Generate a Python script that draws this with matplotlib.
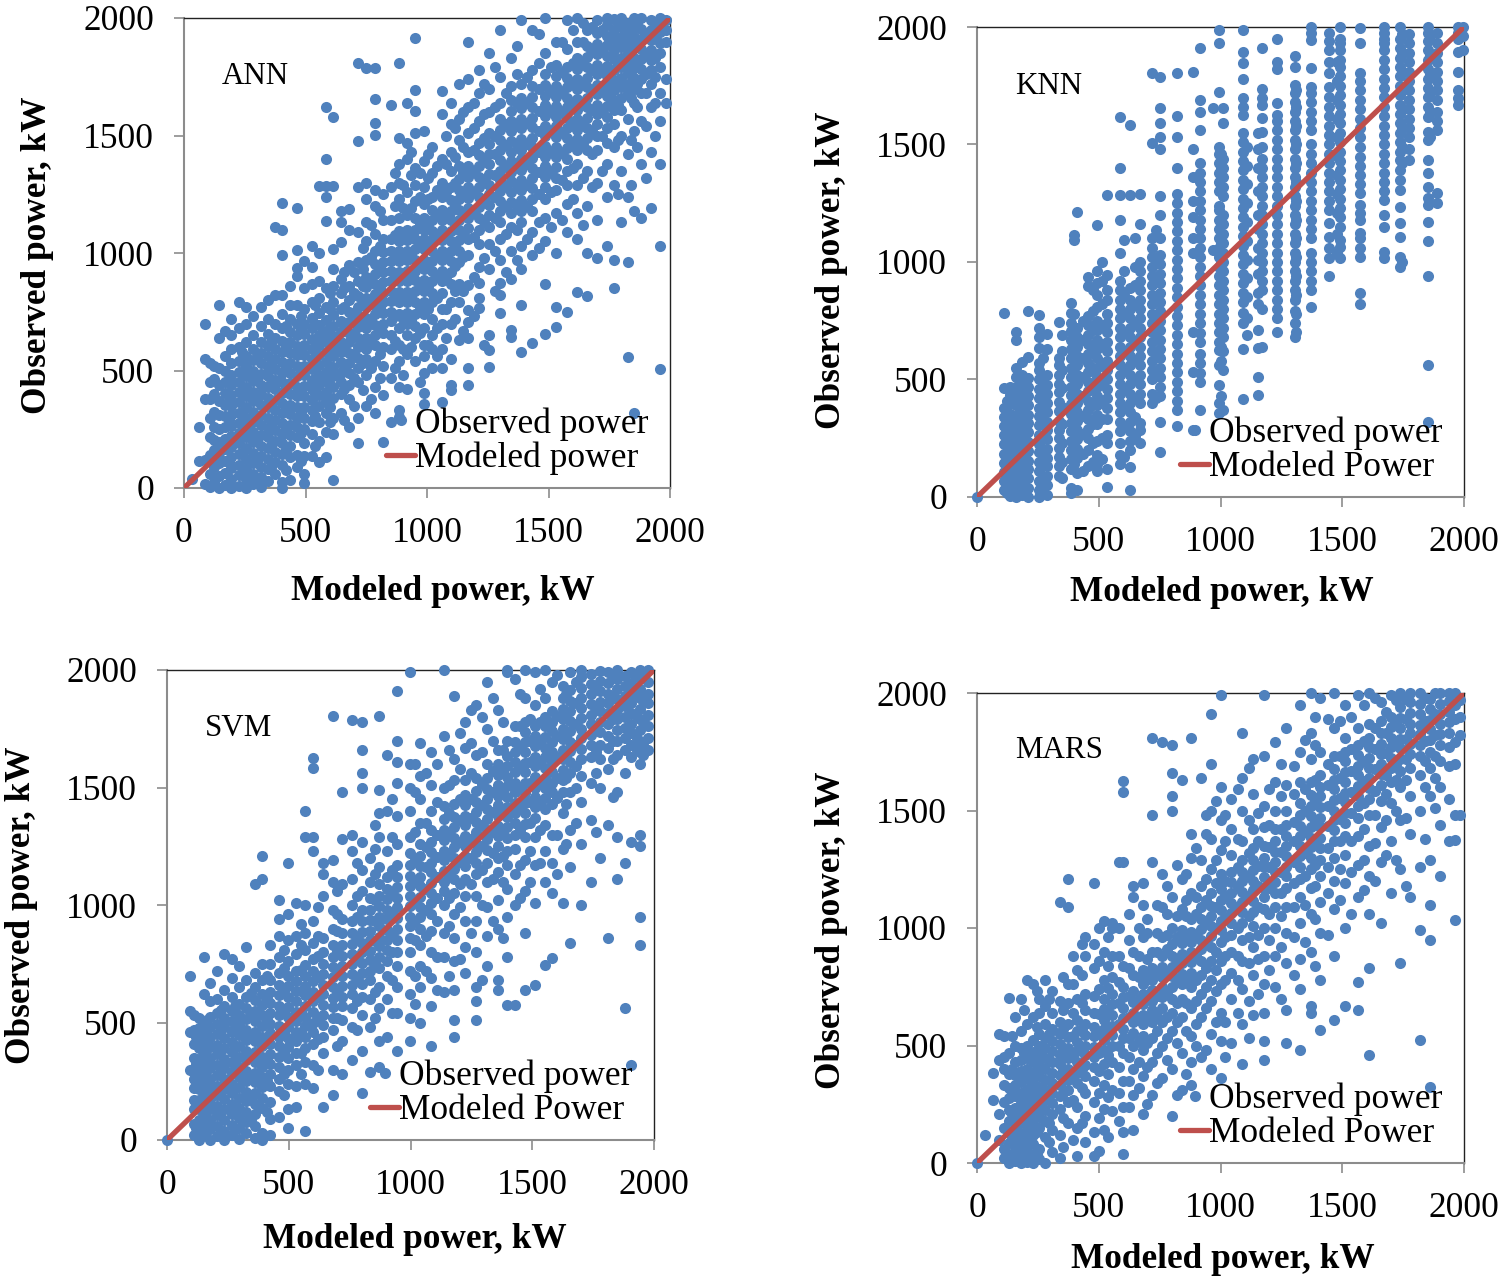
import matplotlib
matplotlib.use('Agg')
import matplotlib.pyplot as plt
from matplotlib.lines import Line2D

plt.rcParams['font.family'] = ['Liberation Serif', 'DejaVu Serif']

W, H = 1498, 1278

# 每列: 模型功率 -> 观测功率
ann_cols = {
    33: [40], 60: [115, 260], 85: [15, 120, 380, 550, 700],
    105: [5, 60, 140, 215, 300, 380, 450, 530],
    125: [25, 90, 160, 205, 260, 325, 400, 465, 520],
    145: [0, 50, 105, 150, 195, 250, 310, 370, 440, 510, 640, 780],
    170: [12, 65, 115, 165, 210, 260, 305, 355, 405, 450, 500, 560, 670],
    195: [0, 40, 85, 130, 175, 220, 265, 310, 350, 395, 440, 480, 530, 590, 650, 720],
    225: [10, 55, 100, 145, 190, 235, 275, 320, 365, 410, 450, 495, 540, 600, 680, 790],
    255: [0, 40, 80, 125, 170, 215, 260, 300, 345, 390, 430, 475, 520, 560, 620, 700, 770],
    285: [15, 60, 105, 150, 195, 240, 280, 325, 370, 410, 455, 500, 545, 590, 650, 730],
    315: [5, 45, 90, 135, 180, 225, 270, 310, 355, 400, 440, 485, 530, 575, 620, 690, 770],
    345: [30, 80, 125, 170, 215, 255, 300, 345, 385, 430, 475, 515, 560, 605, 655, 720, 800],
    375: [60, 110, 155, 200, 245, 290, 330, 375, 420, 460, 505, 550, 590, 640, 700, 820, 1110],
    405: [0, 25, 100, 145, 190, 230, 275, 320, 360, 405, 450, 490, 535, 580, 625, 680, 740, 821, 990, 1098, 1212],
    435: [35, 130, 180, 225, 270, 315, 355, 400, 445, 490, 530, 575, 620, 665, 720, 780, 860],
    465: [90, 140, 215, 260, 300, 345, 390, 430, 475, 520, 565, 605, 650, 700, 780, 902, 936, 1013, 1190],
    495: [20, 60, 135, 190, 250, 300, 345, 390, 435, 480, 520, 565, 610, 655, 700, 760, 850, 966],
    525: [135, 230, 285, 330, 375, 420, 460, 505, 550, 590, 635, 680, 725, 790, 870, 940, 1030],
    555: [110, 200, 280, 350, 395, 440, 480, 525, 565, 610, 650, 695, 745, 810, 880, 1000, 1286],
    585: [130, 240, 320, 370, 410, 455, 495, 535, 580, 625, 670, 715, 770, 850, 1136, 1238, 1286, 1402, 1623],
    615: [35, 230, 300, 385, 430, 475, 515, 560, 600, 645, 690, 735, 790, 860, 930, 1017, 1286, 1580],
    645: [320, 400, 450, 490, 535, 580, 620, 665, 710, 760, 830, 890, 1047, 1130, 1177],
    680: [260, 380, 440, 490, 530, 575, 620, 660, 705, 750, 800, 860, 950, 1100, 1187],
    715: [190, 300, 450, 510, 555, 600, 640, 685, 730, 770, 815, 880, 960, 1090, 1280, 1477, 1808],
    750: [350, 480, 550, 590, 640, 680, 725, 770, 810, 855, 900, 970, 1050, 1130, 1230, 1300, 1787],
    785: [320, 430, 540, 610, 650, 695, 740, 780, 825, 870, 910, 955, 1010, 1080, 1200, 1270, 1503, 1555, 1656, 1787],
    820: [195, 395, 520, 600, 660, 700, 745, 790, 830, 875, 920, 960, 1005, 1060, 1140, 1250],
    850: [280, 470, 590, 650, 710, 750, 795, 840, 880, 925, 965, 1010, 1060, 1140, 1280, 1630],
    883: [302, 330, 430, 540, 610, 680, 740, 790, 835, 880, 920, 965, 1010, 1050, 1095, 1150, 1230, 1300, 1380, 1490, 1808],
    917: [420, 570, 650, 700, 745, 790, 835, 880, 925, 970, 1010, 1055, 1100, 1160, 1260, 1400, 1470, 1637],
    949: [540, 640, 690, 740, 790, 840, 885, 925, 970, 1015, 1060, 1100, 1150, 1220, 1290, 1360, 1510, 1605, 1694, 1914],
    986: [357, 404, 490, 560, 610, 680, 740, 790, 840, 885, 930, 970, 1015, 1060, 1100, 1150, 1210, 1280, 1390, 1520],
    1020: [510, 590, 650, 720, 790, 830, 880, 925, 965, 1010, 1055, 1095, 1140, 1185, 1240, 1340, 1450],
    1060: [366, 510, 590, 700, 760, 830, 880, 925, 970, 1010, 1055, 1100, 1140, 1185, 1240, 1300, 1400, 1590, 1690],
    1097: [417, 440, 550, 700, 790, 870, 920, 965, 1010, 1050, 1095, 1140, 1180, 1225, 1280, 1350, 1430, 1550, 1640],
    1133: [630, 791, 870, 960, 1010, 1055, 1100, 1140, 1185, 1230, 1270, 1315, 1370, 1480, 1570, 1720],
    1170: [438, 511, 638, 706, 757, 864, 990, 1060, 1105, 1150, 1190, 1235, 1280, 1325, 1370, 1430, 1510, 1620, 1740, 1900],
    1216: [766, 808, 872, 940, 1040, 1100, 1150, 1195, 1240, 1280, 1325, 1370, 1415, 1470, 1560, 1680, 1780],
    1257: [515, 587, 651, 930, 1040, 1110, 1160, 1205, 1250, 1290, 1335, 1380, 1420, 1465, 1510, 1600, 1700, 1850],
    1302: [745, 821, 872, 970, 1060, 1130, 1180, 1220, 1265, 1310, 1350, 1395, 1440, 1480, 1525, 1570, 1640, 1750, 1950],
    1347: [643, 672, 890, 1010, 1110, 1170, 1215, 1260, 1305, 1345, 1390, 1430, 1475, 1520, 1560, 1605, 1650, 1710, 1830],
    1388: [579, 780, 930, 1030, 1130, 1180, 1225, 1270, 1310, 1355, 1400, 1440, 1485, 1530, 1570, 1615, 1660, 1720, 1990],
    1433: [617, 990, 1090, 1180, 1230, 1275, 1320, 1360, 1405, 1450, 1490, 1535, 1575, 1620, 1665, 1710, 1780, 1950],
    1487: [655, 870, 1050, 1150, 1230, 1280, 1325, 1370, 1410, 1455, 1500, 1540, 1585, 1630, 1670, 1715, 1760, 1850, 2000],
    1532: [685, 770, 1000, 1170, 1270, 1320, 1365, 1410, 1450, 1495, 1540, 1580, 1625, 1665, 1710, 1755, 1800, 1900],
    1577: [749, 1090, 1210, 1290, 1350, 1400, 1445, 1490, 1530, 1575, 1620, 1660, 1705, 1745, 1790, 1870, 1990],
    1618: [834, 1060, 1170, 1290, 1380, 1440, 1485, 1525, 1570, 1610, 1655, 1700, 1740, 1785, 1830, 1900, 2000],
    1659: [817, 1000, 1200, 1350, 1440, 1490, 1530, 1575, 1620, 1660, 1705, 1745, 1790, 1835, 1880, 1950],
    1700: [980, 1140, 1300, 1440, 1500, 1550, 1590, 1630, 1675, 1715, 1760, 1800, 1845, 1890, 1935, 1990],
    1740: [1030, 1240, 1380, 1470, 1530, 1580, 1625, 1670, 1710, 1755, 1795, 1840, 1885, 1925, 1970, 2000],
    1770: [851, 970, 1290, 1450, 1550, 1610, 1650, 1695, 1735, 1780, 1825, 1865, 1910, 1950, 1995],
    1800: [1130, 1350, 1500, 1610, 1660, 1705, 1745, 1790, 1830, 1875, 1920, 1960, 2000],
    1828: [557, 960, 1240, 1420, 1570, 1680, 1720, 1765, 1810, 1850, 1895, 1935, 1980],
    1852: [319, 1180, 1520, 1640, 1700, 1745, 1790, 1830, 1875, 1920, 1960, 2000],
    1880: [1150, 1380, 1560, 1680, 1740, 1785, 1825, 1870, 1910, 1955, 2000],
    1920: [1190, 1430, 1620, 1720, 1780, 1820, 1865, 1905, 1950, 1990],
    1959: [506, 1030, 1380, 1560, 1680, 1790, 1850, 1895, 1940, 1980, 2000],
    1985: [1640, 1740, 1900, 1950, 1990],
}

# 条带内部较密的部分
ann_dense = {
    185: [20, 110, 200, 290, 375, 460], 240: [60, 150, 240, 325, 410, 495, 580],
    300: [35, 120, 205, 295, 380, 465, 555], 360: [90, 180, 270, 355, 445, 530, 620],
    420: [75, 160, 250, 335, 425, 510, 600, 690], 480: [115, 235, 325, 410, 500, 590, 675, 730],
    540: [180, 305, 400, 465, 540, 620, 700, 780], 600: [280, 345, 440, 515, 600, 680, 760, 830],
    660: [290, 420, 510, 600, 690, 770, 850, 920], 700: [350, 470, 570, 660, 745, 830, 920],
    735: [415, 530, 620, 705, 795, 860, 930, 1020], 770: [380, 510, 630, 715, 800, 890, 985, 1120],
    805: [470, 570, 680, 770, 850, 935, 1030, 1180], 870: [510, 625, 730, 815, 900, 985, 1075, 1200, 1340],
    900: [480, 590, 720, 810, 900, 990, 1075, 1190, 1290], 935: [600, 715, 815, 905, 995, 1080, 1190, 1330, 1430],
    970: [450, 660, 770, 865, 950, 1040, 1125, 1240, 1340], 1005: [610, 760, 860, 950, 1035, 1125, 1230, 1320, 1420],
    1040: [560, 680, 810, 905, 990, 1075, 1165, 1270, 1370], 1080: [640, 760, 900, 990, 1075, 1160, 1260, 1380, 1500],
    1115: [720, 840, 945, 1030, 1120, 1205, 1300, 1410, 1530], 1150: [670, 840, 985, 1080, 1165, 1250, 1340, 1450, 1600],
    1195: [730, 900, 1070, 1170, 1260, 1345, 1440, 1530, 1640], 1235: [610, 980, 1130, 1225, 1310, 1400, 1490, 1590, 1720],
    1280: [840, 1010, 1150, 1240, 1330, 1420, 1500, 1620, 1790], 1325: [920, 1080, 1200, 1285, 1370, 1460, 1550, 1680],
    1370: [970, 1100, 1200, 1290, 1375, 1465, 1550, 1640, 1760, 1880], 1410: [1060, 1200, 1290, 1380, 1465, 1555, 1640, 1750],
    1460: [1020, 1130, 1250, 1345, 1430, 1520, 1605, 1700, 1810, 1930], 1510: [1110, 1260, 1345, 1430, 1520, 1605, 1690, 1790],
    1555: [1140, 1310, 1425, 1515, 1600, 1685, 1770, 1900], 1600: [1230, 1360, 1460, 1550, 1635, 1720, 1810, 1950],
    1640: [1120, 1320, 1460, 1555, 1640, 1725, 1810, 1900, 1980], 1680: [1280, 1420, 1520, 1610, 1695, 1780, 1865, 1960],
    1720: [1350, 1500, 1600, 1690, 1775, 1860, 1950], 1785: [1250, 1480, 1630, 1720, 1805, 1890, 1980],
    1840: [1290, 1480, 1660, 1770, 1855, 1940], 1865: [1450, 1620, 1720, 1810, 1895, 1985],
    1900: [1320, 1540, 1680, 1760, 1845, 1930], 1940: [1500, 1640, 1750, 1830, 1920, 1970],
}

knn_cols = {
    0: [0],
    112: [30, 70, 105, 145, 185, 225, 265, 300, 340, 380, 464, 783],
    135: [5, 45, 85, 125, 160, 200, 240, 280, 320, 355, 395, 435, 470],
    160: [0, 40, 80, 115, 155, 195, 235, 275, 310, 350, 390, 430, 470, 510, 550, 668, 702],
    185: [10, 50, 90, 125, 165, 205, 245, 285, 320, 360, 400, 440, 480, 520, 574],
    209: [0, 40, 80, 120, 155, 195, 235, 275, 315, 350, 390, 430, 470, 506, 596, 791],
    255: [0, 30, 70, 110, 150, 190, 225, 265, 305, 345, 380, 420, 460, 500, 540, 570, 634, 681, 719, 774],
    288: [10, 50, 90, 130, 165, 205, 245, 285, 320, 360, 400, 440, 475, 520, 630, 694],
    337: [90, 130, 170, 210, 250, 285, 325, 365, 405, 445, 480, 520, 560, 590, 745],
    385: [15, 40, 120, 160, 200, 240, 280, 315, 355, 395, 435, 470, 510, 550, 590, 630, 670, 705, 740, 825, 783],
    412: [30, 100, 165, 205, 245, 285, 325, 360, 400, 440, 480, 520, 560, 600, 640, 680, 720, 1213],
    456: [130, 200, 250, 290, 330, 370, 410, 450, 490, 530, 570, 610, 650, 690, 730, 770, 898, 936],
    492: [110, 140, 180, 240, 310, 350, 390, 430, 470, 510, 550, 590, 630, 670, 710, 750, 810, 860, 910, 960, 1157],
    533: [43, 120, 230, 265, 330, 380, 420, 460, 500, 540, 580, 620, 660, 700, 740, 780, 840, 880, 945, 1285],
    587: [140, 180, 230, 280, 320, 360, 400, 440, 480, 520, 560, 600, 640, 680, 720, 760, 800, 840, 880, 920, 1040, 1179, 1285, 1400, 1617],
    628: [30, 128, 200, 240, 280, 320, 360, 400, 440, 480, 520, 560, 600, 640, 680, 720, 760, 800, 840, 890, 1285, 1583],
    669: [230, 285, 315, 400, 440, 480, 520, 560, 600, 640, 680, 720, 760, 800, 840, 880, 920, 960, 1000, 1160, 1290],
    719: [400, 440, 500, 540, 580, 620, 660, 700, 740, 780, 820, 860, 900, 940, 980, 1020, 1060, 1100, 1506, 1804],
    752: [191, 319, 430, 468, 510, 550, 590, 630, 670, 710, 750, 790, 830, 870, 910, 950, 990, 1030, 1100, 1200, 1280, 1480, 1532, 1591, 1655, 1787],
    821: [302, 370, 410, 450, 490, 530, 570, 610, 650, 690, 730, 770, 810, 850, 890, 930, 970, 1010, 1050, 1090, 1130, 1170, 1210, 1250, 1290, 1400, 1532, 1620, 1804],
    887: [285, 530, 700, 1040, 1100, 1190, 1260, 1360, 1480, 1810],
    916: [370, 489, 528, 570, 610, 660, 698, 740, 780, 820, 860, 900, 940, 980, 1020, 1060, 1100, 1140, 1180, 1220, 1260, 1300, 1340, 1380, 1420, 1560, 1640, 1690, 1910],
    969: [1050, 1655],
    994: [357, 400, 477, 562, 626, 660, 700, 740, 780, 820, 860, 900, 940, 980, 1020, 1060, 1100, 1140, 1180, 1220, 1240, 1300, 1340, 1380, 1420, 1460, 1489, 1723, 1932, 1987],
    1010: [370, 540, 620, 680, 720, 760, 800, 840, 880, 920, 960, 1000, 1040, 1080, 1120, 1160, 1200, 1280, 1320, 1360, 1400, 1440, 1591, 1655],
    1092: [417, 630, 740, 783, 830, 870, 910, 950, 990, 1030, 1070, 1110, 1150, 1190, 1230, 1270, 1310, 1350, 1390, 1430, 1470, 1510, 1549, 1625, 1660, 1698, 1779, 1847, 1894, 1987],
    1154: [434, 511, 634, 711, 820, 870, 950, 1010, 1060, 1140, 1200, 1300, 1400, 1480, 1550],
    1170: [640, 800, 880, 920, 960, 1000, 1040, 1080, 1120, 1160, 1200, 1240, 1280, 1320, 1360, 1400, 1440, 1489, 1553, 1613, 1668, 1698, 1736, 1911],
    1232: [700, 760, 800, 840, 880, 920, 960, 1000, 1040, 1080, 1120, 1160, 1200, 1240, 1280, 1320, 1360, 1400, 1440, 1480, 1520, 1560, 1600, 1626, 1677, 1821, 1851, 1949],
    1306: [680, 740, 790, 840, 880, 920, 960, 1000, 1040, 1080, 1120, 1160, 1200, 1240, 1280, 1320, 1360, 1400, 1440, 1480, 1520, 1560, 1600, 1640, 1680, 1720, 1753, 1830, 1877],
    1372: [810, 880, 920, 960, 1000, 1040, 1100, 1140, 1180, 1220, 1260, 1300, 1340, 1380, 1420, 1460, 1500, 1560, 1600, 1640, 1680, 1720, 1745, 1826, 1945, 1975, 2000],
    1446: [940, 1017, 1060, 1106, 1166, 1221, 1260, 1300, 1340, 1380, 1420, 1460, 1500, 1540, 1580, 1620, 1660, 1700, 1745, 1804, 1851, 1902, 1940, 1974],
    1491: [1017, 1064, 1094, 1149, 1192, 1230, 1270, 1310, 1350, 1390, 1430, 1470, 1510, 1550, 1590, 1630, 1670, 1710, 1750, 1790, 1830, 1860, 1902, 1932, 1950, 2000],
    1573: [820, 870, 1021, 1060, 1100, 1123, 1179, 1210, 1243, 1294, 1330, 1370, 1410, 1447, 1489, 1530, 1570, 1610, 1650, 1690, 1730, 1770, 1804, 1932, 1996],
    1671: [1017, 1043, 1149, 1200, 1264, 1300, 1340, 1379, 1421, 1460, 1500, 1540, 1580, 1620, 1660, 1700, 1740, 1780, 1820, 1860, 1900, 1932, 1950, 1975, 2000],
    1737: [979, 1021, 1106, 1166, 1234, 1306, 1349, 1391, 1434, 1470, 1510, 1550, 1590, 1630, 1670, 1710, 1750, 1790, 1830, 1870, 1910, 1950, 2000],
    1775: [1434, 1480, 1530, 1570, 1610, 1650, 1690, 1730, 1770, 1810, 1850, 1890, 1930, 1970],
    1852: [320, 560, 940, 1089, 1170, 1243, 1272, 1319, 1379, 1434, 1519, 1553, 1617, 1660, 1700, 1740, 1780, 1820, 1860, 1900, 1940, 1975, 2000],
    1889: [1251, 1294, 1562, 1600, 1640, 1689, 1732, 1770, 1810, 1850, 1890, 1932, 1974],
    1975: [1668, 1698, 1732, 1809, 1894, 1950, 1975, 2000],
    1996: [1900, 1960, 2000],
}

# 竖列之间补上的点
knn_dense = {
    122: [15, 90, 170, 250, 325, 410], 148: [25, 100, 180, 255, 335, 415], 172: [30, 105, 180, 265, 340, 420, 500],
    198: [25, 100, 180, 260, 340, 415, 490], 270: [15, 90, 170, 245, 325, 400, 480, 590],
    350: [80, 150, 230, 310, 385, 465, 540, 620, 690], 398: [140, 220, 300, 375, 455, 530, 610, 690, 780, 1094, 1115],
    435: [110, 185, 270, 345, 430, 510, 590, 670, 750], 475: [150, 230, 310, 390, 470, 550, 630, 710, 790, 880],
    512: [160, 250, 330, 410, 490, 570, 650, 730, 820, 920, 1000], 605: [170, 300, 380, 460, 540, 620, 700, 780, 860, 960, 1094],
    648: [260, 340, 420, 500, 580, 660, 740, 820, 900, 980, 1100], 735: [420, 520, 600, 680, 760, 840, 920, 1000, 1136],
    1000: [430, 580, 640, 760, 840, 920, 1000, 1080, 1160, 1320, 1400, 1460], 1108: [690, 760, 850, 930, 1010, 1090, 1170, 1250, 1330, 1410, 1490],
    1312: [700, 780, 860, 940, 1020, 1100, 1180, 1260, 1340, 1420, 1500, 1580, 1660, 1730],
    1478: [1040, 1120, 1210, 1290, 1370, 1450, 1530, 1610, 1690, 1770, 1850], 1745: [1000, 1420, 1490, 1570, 1650, 1730, 1810, 1890, 1970],
    1860: [1530, 1640, 1720, 1800, 1880, 1960],
}

svm_cols = {
    0: [0],
    95: [300, 460, 550, 700],
    110: [20, 70, 130, 170, 220, 260, 300, 350, 410, 470, 530],
    130: [0, 40, 85, 130, 170, 215, 255, 300, 345, 390, 430, 475, 520],
    150: [25, 65, 110, 150, 195, 240, 285, 330, 370, 415, 455, 500, 620, 780],
    175: [0, 45, 85, 130, 175, 215, 260, 305, 350, 395, 440, 480, 525, 590, 670],
    205: [15, 60, 105, 145, 190, 230, 275, 320, 365, 405, 450, 495, 540, 600, 720],
    235: [0, 40, 85, 130, 175, 215, 260, 305, 345, 390, 435, 480, 520, 570, 640, 790],
    265: [20, 65, 110, 155, 200, 240, 285, 330, 375, 415, 460, 505, 550, 610, 690, 770],
    295: [5, 50, 95, 135, 180, 225, 270, 310, 355, 400, 445, 490, 530, 580, 650, 740],
    325: [30, 75, 120, 165, 205, 250, 295, 340, 380, 425, 470, 515, 560, 610, 680, 820],
    360: [10, 60, 110, 155, 200, 245, 285, 330, 375, 420, 460, 505, 550, 595, 650, 710, 1090],
    390: [0, 30, 135, 180, 225, 270, 310, 355, 400, 440, 485, 530, 575, 620, 680, 750, 1110, 1210],
    425: [20, 90, 160, 230, 280, 325, 365, 410, 455, 495, 540, 585, 630, 680, 750, 830],
    460: [100, 210, 260, 310, 355, 400, 440, 485, 530, 570, 615, 660, 710, 780, 870, 940, 1020],
    495: [50, 130, 240, 300, 350, 395, 435, 480, 525, 565, 610, 655, 700, 760, 850, 960, 1180],
    530: [140, 230, 320, 370, 420, 460, 505, 545, 590, 635, 675, 720, 790, 870, 1010],
    565: [40, 240, 330, 390, 440, 485, 525, 570, 615, 655, 700, 745, 810, 880, 1000, 1290, 1400],
    600: [220, 320, 410, 460, 500, 545, 590, 630, 675, 720, 770, 840, 930, 1230, 1290, 1583, 1625],
    640: [140, 370, 440, 490, 530, 575, 620, 660, 705, 750, 800, 860, 1040, 1130, 1180],
    680: [190, 300, 470, 520, 565, 605, 650, 695, 735, 780, 830, 900, 980, 1100, 1190, 1804],
    720: [280, 420, 510, 570, 610, 655, 700, 740, 785, 830, 880, 940, 1090, 1280, 1480],
    760: [340, 480, 560, 620, 660, 705, 750, 790, 835, 880, 930, 1000, 1110, 1230, 1300, 1787],
    800: [200, 380, 530, 610, 665, 710, 755, 800, 840, 885, 930, 980, 1060, 1150, 1270, 1500, 1560, 1660, 1779],
    835: [290, 480, 600, 680, 720, 765, 805, 850, 890, 935, 980, 1030, 1100, 1200],
    870: [310, 420, 560, 650, 730, 780, 825, 865, 910, 950, 995, 1040, 1090, 1160, 1290, 1390, 1490, 1804],
    905: [440, 600, 700, 760, 810, 850, 895, 940, 980, 1025, 1070, 1120, 1230, 1400, 1640],
    945: [380, 540, 650, 740, 800, 850, 900, 945, 990, 1030, 1075, 1120, 1170, 1260, 1380, 1520, 1610, 1700, 1910],
    998: [420, 520, 620, 720, 800, 860, 910, 950, 995, 1040, 1080, 1125, 1170, 1220, 1290, 1400, 1500, 1600, 1991],
    1040: [500, 650, 740, 830, 900, 950, 990, 1035, 1080, 1120, 1165, 1210, 1260, 1350, 1450, 1550, 1690],
    1085: [400, 570, 690, 800, 890, 960, 1010, 1050, 1095, 1140, 1180, 1225, 1270, 1320, 1400, 1510, 1650],
    1137: [630, 780, 880, 1000, 1060, 1100, 1145, 1190, 1230, 1275, 1320, 1365, 1420, 1500, 1720, 2000],
    1180: [440, 510, 640, 760, 860, 960, 1050, 1110, 1155, 1200, 1245, 1285, 1330, 1375, 1430, 1530, 1620, 1890],
    1225: [710, 820, 930, 1040, 1110, 1165, 1210, 1250, 1295, 1340, 1380, 1425, 1470, 1530, 1670, 1780],
    1270: [510, 590, 650, 800, 930, 1040, 1130, 1180, 1225, 1265, 1310, 1355, 1395, 1440, 1485, 1540, 1640, 1850],
    1315: [740, 870, 990, 1100, 1180, 1235, 1280, 1320, 1365, 1410, 1450, 1495, 1540, 1600, 1750, 1950],
    1360: [640, 680, 900, 1020, 1140, 1200, 1250, 1295, 1335, 1380, 1425, 1465, 1510, 1555, 1600, 1660, 1830],
    1396: [574, 780, 950, 1070, 1170, 1230, 1285, 1330, 1375, 1415, 1460, 1505, 1545, 1590, 1635, 1700, 1990, 2000],
    1429: [574, 1000, 1130, 1240, 1300, 1350, 1390, 1435, 1480, 1520, 1565, 1610, 1650, 1695, 1760, 1960],
    1470: [638, 880, 1060, 1190, 1290, 1345, 1390, 1435, 1475, 1520, 1565, 1605, 1650, 1695, 1735, 1780, 1880, 2000],
    1511: [660, 1010, 1170, 1290, 1370, 1415, 1460, 1500, 1545, 1590, 1630, 1675, 1720, 1760, 1850, 1990],
    1552: [745, 1100, 1230, 1340, 1410, 1455, 1500, 1540, 1585, 1630, 1670, 1715, 1760, 1800, 1880, 2000],
    1581: [774, 1050, 1180, 1300, 1430, 1480, 1520, 1565, 1610, 1650, 1695, 1740, 1780, 1825, 1950],
    1625: [1010, 1240, 1390, 1480, 1530, 1575, 1620, 1660, 1705, 1750, 1790, 1835, 1880, 1930],
    1655: [838, 1160, 1320, 1480, 1560, 1610, 1655, 1695, 1740, 1785, 1825, 1870, 1915, 1990],
    1700: [1000, 1260, 1440, 1550, 1620, 1665, 1710, 1750, 1795, 1840, 1880, 1925, 1970, 2000],
    1740: [1100, 1360, 1520, 1630, 1680, 1725, 1770, 1810, 1855, 1900, 1940, 1985],
    1780: [1200, 1500, 1620, 1680, 1735, 1780, 1825, 1865, 1910, 1955, 1995],
    1811: [860, 1340, 1580, 1670, 1720, 1770, 1815, 1860, 1900, 1945, 1990],
    1850: [1110, 1290, 1480, 1640, 1700, 1745, 1790, 1830, 1875, 1920, 1960, 2000],
    1881: [562, 1180, 1560, 1660, 1710, 1755, 1800, 1845, 1890, 1930, 1975],
    1905: [319, 1270, 1630, 1680, 1730, 1770, 1815, 1860, 1900, 1945, 1990],
    1942: [949, 830, 1250, 1300, 1600, 1650, 1700, 1745, 1790, 1835, 1880, 1920, 1965, 2000],
    1975: [1660, 1710, 1760, 1810, 1860, 1900, 1950, 2000],
}

svm_dense = {
    120: [50, 150, 240, 325, 440], 165: [60, 150, 240, 330, 420, 510], 220: [40, 120, 210, 295, 385, 470, 555],
    280: [45, 130, 220, 305, 395, 480, 570], 345: [90, 180, 265, 355, 440, 530, 625], 410: [120, 250, 340, 430, 515, 605, 700],
    480: [190, 280, 375, 460, 550, 640, 730, 810], 550: [280, 370, 460, 545, 635, 725, 830, 920],
    620: [300, 430, 520, 610, 695, 785, 870, 990], 700: [400, 520, 630, 715, 805, 890, 960, 1060],
    780: [470, 590, 690, 775, 860, 950, 1040, 1180], 855: [520, 630, 750, 845, 930, 1020, 1130, 1240, 1340],
    925: [540, 680, 800, 875, 965, 1050, 1150, 1290, 1450], 1020: [580, 700, 850, 930, 1015, 1100, 1190, 1310, 1480, 1600],
    1065: [720, 870, 980, 1070, 1160, 1245, 1350, 1560], 1110: [640, 780, 930, 1030, 1120, 1205, 1300, 1440, 1600],
    1160: [700, 910, 1030, 1125, 1220, 1305, 1390, 1510, 1660], 1205: [770, 990, 1090, 1185, 1270, 1360, 1450, 1580, 1730],
    1250: [880, 1090, 1200, 1280, 1370, 1450, 1560, 1690, 1830], 1295: [680, 1000, 1150, 1250, 1340, 1425, 1515, 1650, 1800],
    1340: [930, 1110, 1220, 1310, 1395, 1480, 1570, 1700, 1880], 1380: [860, 1100, 1210, 1310, 1395, 1485, 1570, 1660, 1780],
    1450: [1030, 1170, 1320, 1410, 1500, 1585, 1670, 1760, 1900], 1490: [1100, 1230, 1350, 1440, 1520, 1610, 1700, 1790],
    1530: [1180, 1320, 1430, 1520, 1610, 1695, 1780, 1920], 1600: [1130, 1300, 1455, 1540, 1630, 1720, 1805, 1980],
    1640: [1260, 1430, 1540, 1630, 1720, 1805, 1900], 1680: [1350, 1500, 1590, 1680, 1770, 1860, 1950],
    1760: [1310, 1560, 1650, 1750, 1840, 1930], 1830: [1460, 1620, 1700, 1790, 1880, 1970],
    1925: [1670, 1720, 1810, 1900, 1980], 1955: [1640, 1690, 1780, 1870, 1970],
}

mars_cols = {
    0: [0], 33: [119], 66: [268, 382],
    90: [100, 210, 440, 550],
    110: [20, 60, 150, 260, 330, 400, 450, 540],
    131: [0, 35, 85, 130, 180, 225, 275, 320, 380, 470, 702],
    155: [10, 55, 100, 145, 190, 235, 285, 330, 375, 430, 500, 620],
    180: [0, 40, 80, 125, 170, 215, 255, 300, 345, 390, 440, 490, 560, 700],
    205: [5, 50, 95, 140, 180, 225, 270, 315, 360, 400, 445, 500, 590, 780],
    230: [0, 35, 80, 120, 165, 210, 255, 295, 340, 385, 430, 470, 525, 620, 760],
    255: [15, 60, 150, 195, 240, 285, 325, 370, 415, 460, 500, 550, 640, 700],
    280: [0, 110, 180, 225, 270, 310, 355, 400, 445, 490, 530, 590, 670, 780],
    310: [45, 140, 210, 255, 300, 340, 385, 430, 475, 520, 570, 640, 730],
    340: [20, 120, 230, 285, 330, 375, 420, 460, 505, 550, 600, 690, 1110],
    375: [170, 260, 310, 355, 400, 445, 490, 535, 590, 680, 760, 1090, 1210],
    410: [30, 150, 240, 340, 385, 430, 475, 515, 560, 610, 700, 820],
    445: [90, 200, 300, 370, 415, 460, 500, 545, 590, 650, 720, 880, 960],
    480: [30, 130, 260, 350, 410, 450, 495, 540, 580, 640, 710, 830, 930, 1190],
    520: [140, 230, 330, 420, 480, 525, 570, 610, 655, 700, 780, 900, 1030],
    555: [220, 310, 430, 500, 545, 585, 630, 675, 720, 790, 880, 1000, 1020],
    600: [40, 130, 240, 350, 470, 530, 570, 615, 660, 705, 750, 840, 1280, 1580, 1625],
    640: [140, 290, 400, 500, 555, 600, 640, 685, 730, 800, 900, 1130, 1180],
    680: [210, 370, 480, 540, 590, 630, 675, 720, 760, 820, 960, 1100, 1190],
    720: [290, 430, 530, 600, 650, 690, 735, 780, 830, 900, 1280, 1480, 1810],
    760: [360, 500, 600, 660, 705, 750, 790, 835, 880, 960, 1090, 1230, 1790],
    800: [200, 400, 560, 640, 700, 750, 795, 835, 880, 930, 1000, 1130, 1500, 1560, 1660, 1780],
    840: [310, 470, 620, 700, 760, 805, 850, 890, 935, 990, 1080, 1210, 1630],
    880: [330, 430, 540, 660, 750, 810, 855, 900, 940, 985, 1040, 1150, 1300, 1400, 1810],
    920: [450, 620, 720, 800, 860, 910, 950, 995, 1040, 1090, 1180, 1290, 1640],
    960: [400, 550, 690, 780, 860, 920, 965, 1010, 1050, 1095, 1150, 1250, 1380, 1500, 1700, 1910],
    1000: [360, 520, 640, 760, 860, 940, 990, 1030, 1075, 1120, 1165, 1230, 1330, 1460, 1600, 1990],
    1045: [510, 700, 810, 900, 970, 1020, 1065, 1105, 1150, 1195, 1240, 1310, 1420, 1550],
    1090: [420, 590, 740, 860, 950, 1020, 1070, 1110, 1155, 1200, 1240, 1290, 1370, 1500, 1640, 1830],
    1135: [630, 800, 920, 1010, 1070, 1115, 1160, 1200, 1245, 1290, 1340, 1420, 1570, 1720],
    1180: [440, 520, 640, 760, 880, 1000, 1080, 1130, 1170, 1215, 1260, 1300, 1350, 1430, 1520, 1730, 1990],
    1225: [750, 880, 1000, 1090, 1150, 1195, 1240, 1280, 1325, 1370, 1420, 1500, 1620, 1790],
    1270: [510, 650, 850, 980, 1090, 1170, 1220, 1260, 1305, 1350, 1390, 1440, 1500, 1610, 1850],
    1326: [481, 740, 870, 1020, 1130, 1210, 1260, 1305, 1350, 1390, 1435, 1480, 1530, 1620, 1750, 1950],
    1370: [640, 670, 900, 1060, 1170, 1250, 1300, 1345, 1385, 1430, 1475, 1520, 1565, 1620, 1720, 1830, 2000],
    1409: [566, 780, 980, 1110, 1220, 1290, 1340, 1385, 1430, 1470, 1515, 1560, 1600, 1650, 1750, 1980],
    1466: [609, 880, 1080, 1200, 1300, 1370, 1415, 1460, 1500, 1545, 1590, 1630, 1675, 1730, 1850, 2000],
    1510: [670, 1000, 1190, 1310, 1390, 1445, 1490, 1535, 1575, 1620, 1665, 1710, 1750, 1810, 1950],
    1565: [651, 770, 1130, 1270, 1390, 1470, 1520, 1560, 1605, 1650, 1690, 1735, 1780, 1850, 1990],
    1610: [830, 460, 1060, 1220, 1350, 1480, 1550, 1595, 1640, 1680, 1725, 1770, 1810, 1870, 2000],
    1660: [1020, 1280, 1430, 1540, 1610, 1655, 1700, 1740, 1785, 1830, 1880, 1960],
    1700: [1150, 1370, 1530, 1620, 1680, 1725, 1770, 1810, 1855, 1900, 1990],
    1737: [851, 1250, 1460, 1600, 1670, 1720, 1765, 1805, 1850, 1895, 1940, 2000],
    1780: [1130, 1400, 1560, 1680, 1740, 1785, 1830, 1870, 1915, 1960, 2000],
    1819: [523, 990, 1260, 1500, 1650, 1730, 1780, 1825, 1865, 1910, 1955, 2000],
    1860: [323, 949, 1098, 1290, 1560, 1680, 1750, 1800, 1845, 1885, 1930, 1975],
    1900: [1220, 1440, 1600, 1710, 1780, 1825, 1870, 1910, 1955, 2000],
    1940: [1370, 1550, 1690, 1770, 1830, 1875, 1920, 1965, 2000],
    1963: [1034, 1374, 1481, 1700, 1790, 1890, 1950, 2000],
    1985: [1481, 1820, 1900, 1970],
}

mars_dense = {
    145: [30, 110, 210, 300, 400, 540], 195: [25, 110, 200, 290, 375, 470, 650], 245: [40, 130, 220, 310, 395, 480, 580, 730],
    295: [90, 170, 270, 355, 440, 550, 700], 355: [70, 190, 300, 395, 480, 570, 650, 790], 395: [100, 270, 365, 450, 540, 640, 760, 880],
    430: [170, 320, 400, 480, 570, 680, 800, 930], 500: [50, 190, 300, 390, 470, 550, 635, 740, 860, 1000],
    540: [110, 280, 380, 460, 550, 640, 745, 840, 960], 585: [180, 300, 410, 500, 590, 680, 770, 880, 1000, 1280],
    625: [240, 350, 450, 530, 620, 710, 830, 950, 1060], 665: [320, 430, 520, 610, 700, 790, 880, 1000],
    700: [250, 410, 510, 615, 700, 800, 870, 980, 1040], 740: [340, 470, 560, 625, 710, 810, 900, 980, 1100],
    780: [440, 530, 620, 720, 815, 910, 970, 1060, 1180], 820: [290, 510, 600, 680, 780, 865, 960, 1050, 1270],
    860: [380, 560, 680, 780, 870, 960, 1050, 1120, 1230], 900: [500, 590, 690, 780, 880, 970, 1060, 1130, 1340],
    940: [480, 660, 750, 830, 930, 1020, 1120, 1210, 1400, 1480], 980: [600, 730, 820, 900, 1000, 1090, 1190, 1290, 1540],
    1020: [450, 600, 780, 880, 960, 1040, 1135, 1200, 1370, 1480], 1070: [640, 780, 880, 1000, 1090, 1175, 1260, 1380, 1590],
    1115: [530, 690, 850, 960, 1050, 1135, 1225, 1320, 1460, 1680], 1155: [720, 870, 970, 1090, 1180, 1265, 1370, 1490],
    1200: [820, 950, 1060, 1170, 1260, 1345, 1440, 1590], 1250: [700, 920, 1050, 1150, 1240, 1325, 1420, 1560, 1700],
    1300: [800, 960, 1090, 1190, 1280, 1370, 1450, 1570, 1690], 1345: [940, 1100, 1220, 1320, 1410, 1500, 1590, 1800],
    1390: [840, 1040, 1180, 1270, 1365, 1450, 1540, 1630, 1780, 1900], 1440: [970, 1150, 1260, 1340, 1435, 1520, 1610, 1700, 1890],
    1490: [1120, 1250, 1370, 1465, 1555, 1640, 1730, 1880], 1535: [1060, 1240, 1370, 1490, 1580, 1670, 1760, 1900],
    1590: [1160, 1290, 1420, 1530, 1625, 1710, 1795, 1950], 1635: [1200, 1360, 1480, 1585, 1675, 1760, 1850, 1980],
    1680: [1310, 1460, 1570, 1650, 1745, 1830, 1920], 1720: [1290, 1500, 1630, 1700, 1790, 1875, 1970],
    1760: [1180, 1470, 1630, 1720, 1805, 1890, 1975], 1840: [1380, 1600, 1710, 1795, 1880, 1980], 1880: [1510, 1640, 1730, 1820, 1910, 2000],
}

names = ['ANN', 'KNN', 'SVM', 'MARS']
columns = [ann_cols, knn_cols, svm_cols, mars_cols]
dense = [ann_dense, knn_dense, svm_dense, mars_dense]
line_labels = ['Modeled power', 'Modeled Power', 'Modeled Power', 'Modeled Power']
axis_ticks = [0, 500, 1000, 1500, 2000]

# 子图像素边框: 左, 上, 右, 下
boxes = [(184, 18, 670, 488), (977, 27, 1464, 497), (167, 670, 654, 1140), (977, 693, 1464, 1163)]
# 横轴标题和纵轴标题的中心位置
xlabel_pos = [(443, 591), (1222, 593), (415, 1240), (1223, 1259)]
ylabel_pos = [(38, 255), (832, 270), (22, 905), (832, 930)]
name_pos = [(222, 76), (1015, 86), (205, 728), (1015, 751)]

BLUE = '#4F81BD'
RED = '#BE4F4C'
GRAY = '#8C8C8C'


def flatten(*tables):
    xs = [x for cols in tables for x, ys in cols.items() for y in ys]
    ys = [y for cols in tables for col in cols.values() for y in col]
    return xs, ys


fig = plt.figure(figsize=(W / 100, H / 100), dpi=100)

for i in range(4):
    left, top, right, bottom = boxes[i]
    ax = fig.add_axes([left / W, 1 - bottom / H, (right - left) / W, (bottom - top) / H])
    xs, ys = flatten(columns[i], dense[i])
    ax.scatter(xs, ys, s=64, color=BLUE, linewidths=0, clip_on=False, zorder=3)
    ax.plot([0, 2000], [0, 2000], color=RED, linewidth=3.8, solid_capstyle='butt', zorder=4)
    ax.set_xlim(0, 2000)
    ax.set_ylim(0, 2000)
    ax.set_xticks(axis_ticks)
    ax.set_yticks(axis_ticks)
    ax.tick_params(axis='both', length=7.5, width=1.2, color=GRAY, labelsize=25.5)
    ax.tick_params(axis='x', pad=13.5)
    ax.tick_params(axis='y', pad=14)
    for side in ['left', 'bottom']:
        ax.spines[side].set_color(GRAY)
        ax.spines[side].set_linewidth(1.5)
    for side in ['top', 'right']:
        ax.spines[side].set_color('#222222')
        ax.spines[side].set_linewidth(1.0)

    # 图例放在右下角，图例项之间几乎没有间距
    handles = [
        Line2D([], [], linestyle='none', marker='o', markersize=8, color=BLUE, markeredgewidth=0),
        Line2D([], [], color=RED, linewidth=3.8, solid_capstyle='round'),
    ]
    leg = ax.legend(handles, ['Observed power', line_labels[i]], frameon=False, fontsize=25.5,
                    loc='lower left', bbox_to_anchor=((right - left - 284) / (right - left), 13 / (bottom - top)),
                    borderaxespad=0, borderpad=0, handlelength=0.83, handletextpad=0.0,
                    labelspacing=0.02)
    leg.set_zorder(5)

    ax.text(name_pos[i][0] / W, 1 - name_pos[i][1] / H, names[i], transform=fig.transFigure,
            fontsize=22.3, ha='left', va='center', zorder=6)
    fig.text(xlabel_pos[i][0] / W, 1 - xlabel_pos[i][1] / H, 'Modeled power, kW', fontsize=25.4,
             fontweight='bold', ha='center', va='center')
    fig.text(ylabel_pos[i][0] / W, 1 - ylabel_pos[i][1] / H, 'Observed power, kW', fontsize=25.4,
             fontweight='bold', ha='center', va='center', rotation=90)

fig.savefig('out.png', dpi=100)
